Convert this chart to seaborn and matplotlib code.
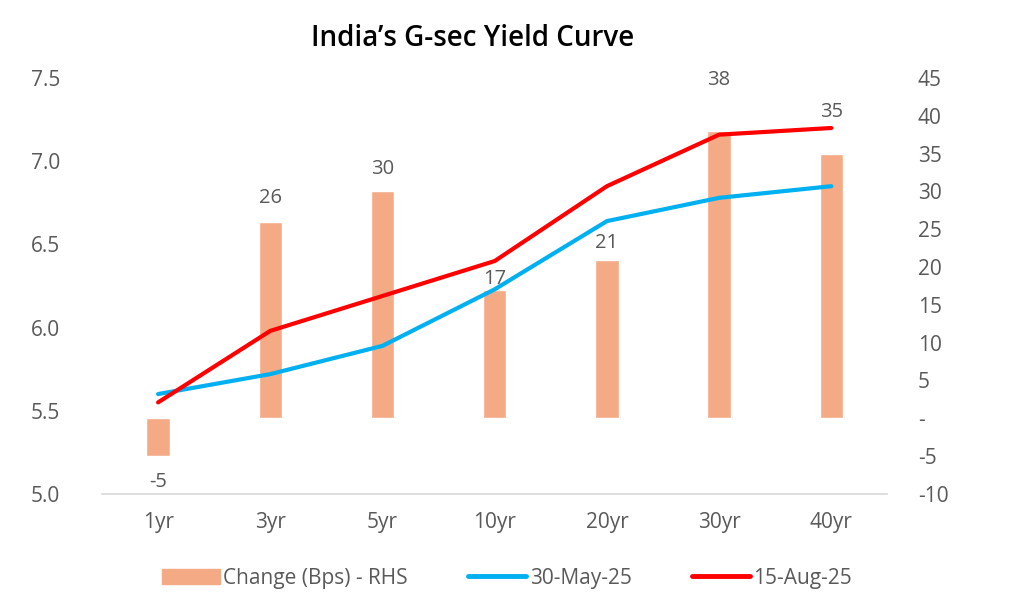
import matplotlib
matplotlib.use('Agg')
from matplotlib import pyplot as plt
from matplotlib.ticker import FuncFormatter
from matplotlib.lines import Line2D
from matplotlib.patches import Patch
import pandas as pd
import seaborn as sns

tenors = ['1yr', '3yr', '5yr', '10yr', '20yr', '30yr', '40yr']
yield_may = [5.60, 5.72, 5.89, 6.23, 6.64, 6.78, 6.85]
yield_aug = [5.55, 5.98, 6.19, 6.40, 6.85, 7.16, 7.20]
change_bps = [-5, 26, 30, 17, 21, 38, 35]

BAR = '#F4AA84'
BLUE = '#00B0F0'
RED = '#FF0000'
GREY = '#595959'
FS = 15

# data labels were nudged by hand in the original, offsets in points
label_pad = [19, 17, 16, 8, 12, 37, 30]

df = pd.DataFrame({'Tenor': tenors, '30-May-25': yield_may,
                   '15-Aug-25': yield_aug, 'Change': change_bps})
long = df.melt(id_vars='Tenor', value_vars=['30-May-25', '15-Aug-25'],
               var_name='Date', value_name='Yield')

sns.set_theme(style='white')
plt.rcParams['font.family'] = ['Open Sans', 'DejaVu Sans']

fig = plt.figure(figsize=(10.24, 6.15), dpi=100)
ax = fig.add_axes([0.0996, 0.197, 0.767, 0.676])
ax2 = ax.twinx()

sns.barplot(ax=ax2, data=df, x='Tenor', y='Change', color=BAR,
            width=0.21, saturation=1, order=tenors)
for bar, val, pad in zip(ax2.patches, change_bps, label_pad):
    x = bar.get_x() + bar.get_width() / 2
    off = pad if val >= 0 else -pad
    ax2.annotate(f'{val}', (x, val), xytext=(0, off), textcoords='offset points',
                 ha='center', va='center', fontsize=FS - 0.5, color=GREY)

sns.lineplot(ax=ax, data=long, x='Tenor', y='Yield', hue='Date',
             palette=[BLUE, RED], linewidth=3, legend=False, sort=False)

ax.set_zorder(ax2.get_zorder() + 1)
ax.patch.set_visible(False)

ax.set_ylim(5.0, 7.5)
ax.set_yticks([5.0, 5.5, 6.0, 6.5, 7.0, 7.5])
ax.yaxis.set_major_formatter(FuncFormatter(lambda v, p: f'{v:.1f}'))
ax2.set_ylim(-10, 45)
ax2.set_yticks(range(-10, 50, 5))
ax2.yaxis.set_major_formatter(FuncFormatter(lambda v, p: '-' if v == 0 else f'{v:.0f}'))
ax.set_xlim(-0.5, 6.5)

for a in (ax, ax2):
    a.set_xlabel('')
    a.set_ylabel('')
    for s in a.spines.values():
        s.set_visible(False)
    a.tick_params(length=0, labelsize=FS, labelcolor=GREY)
ax.spines['bottom'].set_visible(True)
ax.spines['bottom'].set_color('#D9D9D9')
ax.spines['bottom'].set_linewidth(1.2)
ax.tick_params(axis='y', pad=30)
ax2.tick_params(axis='y', pad=22)
ax.tick_params(axis='x', pad=13)

fig.text(0.462, 0.938, 'India\u2019s G-sec Yield Curve', ha='center', va='center',
         fontsize=20, fontweight='semibold', color='black')

handles = [Patch(facecolor=BAR, edgecolor=BAR, label='Change (Bps) - RHS'),
           Line2D([], [], color=BLUE, lw=3.5, label='30-May-25'),
           Line2D([], [], color=RED, lw=3.5, label='15-Aug-25')]
fig.legend(handles=handles, loc='center', bbox_to_anchor=(0.495, 0.06), ncol=3,
           frameon=False, fontsize=FS, labelcolor=GREY, handlelength=2.8,
           handletextpad=0.15, columnspacing=2.9)

fig.savefig('out.png', dpi=100)
